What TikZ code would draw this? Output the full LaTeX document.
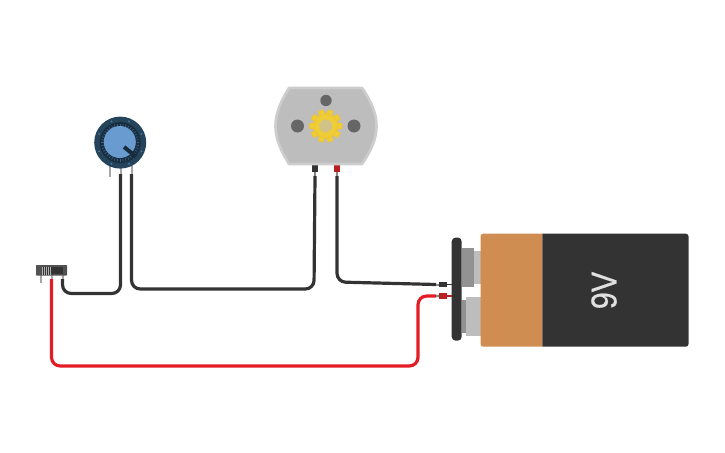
\documentclass[tikz,border=0pt]{standalone}
\usepackage{fontspec}
\newfontfamily\labelfont[FakeBold=0.6]{Liberation Sans}
\definecolor{wireblack}{RGB}{51,51,51}
\definecolor{wirered}{RGB}{227,29,36}
\definecolor{tipred}{RGB}{185,32,32}
\definecolor{copper}{RGB}{208,141,82}
\definecolor{casegray}{RGB}{189,189,189}
\definecolor{caseedge}{RGB}{205,205,205}
\definecolor{holegray}{RGB}{102,102,102}
\definecolor{gearyellow}{RGB}{238,205,55}
\definecolor{potnavy}{RGB}{36,68,92}
\definecolor{potring}{RGB}{24,44,62}
\definecolor{potblue}{RGB}{106,155,208}
\tikzset{every picture/.style={line width=0.75pt}}
\tikzset{
  wire/.style={line width=2.4pt,rounded corners=6.5pt},
  pin/.style={line width=1.5pt,color=gray!70},
  tip/.style={line width=4.6pt,line join=round},
  gearedge/.style={fill=gearyellow,draw=gearyellow!85!orange,line width=0.4pt,line join=round},
}

\begin{document}
\begin{tikzpicture}[x=0.75pt,y=0.75pt,yscale=-1,xscale=1]
        \useasboundingbox (0,0) rectangle (725,453);

        %Terminals
        \coordinate (swA) at (51.5,279);
        \coordinate (swB) at (62.5,279);
        \coordinate (potA) at (120.5,174);
        \coordinate (potB) at (131.5,174);
        \coordinate (motA) at (315,176);
        \coordinate (motB) at (337,176);
        \coordinate (batA) at (436,284.5);
        \coordinate (batB) at (436,296);

        %Potentiometer pins
        \draw [pin] (109.5,165) -- (109.5,177);
        \draw [pin] (120.5,165) -- (potA);
        \draw [pin] (131.5,165) -- (potB);
        %Potentiometer
        \fill [potnavy] (120.2,142.6) circle (26);
        \foreach \a in {0,45,...,315} {
          \fill [potblue!60!potnavy] (120.2,142.6) ++(\a+22.5:23) circle (1);
        }
        \fill [potring] (120.2,142.6) circle (20.5);
        \foreach \a in {0,9,...,351} {
          \draw [potblue!35!potnavy,line width=0.5pt] (120.2,142.6) ++(\a:16.5) -- ++(\a:2.5);
        }
        \fill [potblue] (119.8,142) circle (16);
        \draw [potring,line width=3pt] (124,147) -- (136,156.5);

        %Motor terminals
        \draw [pin,wireblack!60] (motA) -- ++(0,-6);
        \draw [pin,wireblack!60] (motB) -- ++(0,-6);
        \draw [tip,wireblack] (315,165) -- (315,172);
        \draw [tip,tipred] (337,165) -- (337,172);
        %Motor
        \draw [caseedge,fill=casegray,line width=2pt,line join=round]
          (289,88) -- (362,88) .. controls (371,101) and (376.5,113) .. (376.5,126)
          .. controls (376.5,139) and (371,151) .. (362,164) -- (289,164)
          .. controls (281,151) and (275.5,139) .. (275.5,126)
          .. controls (275.5,113) and (281,101) .. cycle;
        \fill [holegray] (326,100.5) circle (5.7);
        \fill [holegray] (297.5,126) circle (6.5);
        \fill [holegray] (354,126) circle (6.5);
        %Gear
        \foreach \a in {18,54,...,342} {
          \path [gearedge,rotate around={\a:(325.7,126)}] (322.4,115) -- (323.2,109.7) -- (328.2,109.7) -- (329,115) -- cycle;
        }
        \path [gearedge] (325.7,126) circle (12);
        \fill [casegray!60!gearyellow] (325.7,126) circle (6.5);

        %Slide switch
        \draw [pin] (40.5,275) -- (40.5,282.5);
        \draw [pin] (swA) -- ++(0,-4);
        \draw [pin] (swB) -- ++(0,-4);
        \fill [wireblack!85,rounded corners=0.5pt] (36,265) rectangle (67,275.5);
        \fill [black!80] (50.5,266.5) rectangle (63,274);
        \fill [gray!60] (41.5,266.5) rectangle (50.5,274.5);
        \foreach \x in {43,45,47,49} {
          \draw [wireblack,line width=0.6pt] (\x,266.5) -- (\x,274.5);
        }

        %Wires
        \draw [wire,wireblack] (swB) -- (62.5,293.5) -- (120.5,293.5) -- (potA);
        \draw [wire,wireblack] (potB) -- (131.5,289) -- (314,289) -- (motA);
        \draw [wire,wireblack] (motB) -- (337,282) -- (batA);
        \draw [wire,wirered] (swA) -- (51.5,366) -- (418,366) -- (418,296) -- (batB);

        %Battery
        \fill [holegray!50!casegray] (462,248.3) rectangle (474,286.5);
        \fill [casegray] (474,251) rectangle (481,284);
        \fill [holegray!50!casegray] (462,300.3) rectangle (467,332.7);
        \fill [casegray] (466.3,297.3) rectangle (481,335.7);
        \fill [wireblack,rounded corners=3pt] (451.7,237.5) rectangle (461.7,340.7);
        \fill [copper] (542.3,233.7) [rounded corners=2pt] -- (480.5,233.7) -- (480.5,346.7) [sharp corners] -- (542.3,346.7) -- cycle;
        \fill [wireblack] (542.3,233.7) [rounded corners=2pt] -- (688.5,233.7) -- (688.5,346.7) [sharp corners] -- (542.3,346.7) -- cycle;
        %Battery clips
        \draw [pin,wireblack!60] (batA) -- (439,284.5);
        \draw [tip,wireblack,line width=4pt] (439,284.7) -- (447,284.7);
        \draw [wireblack,line width=1pt] (447,284.7) -- (452,284.7);
        \draw [pin,wireblack!60] (batB) -- (439,296);
        \draw [tip,tipred,line width=4pt] (439,296) -- (447,296);
        \draw [tipred,line width=1pt] (447,296) -- (452,296);

        % Text Node
        \node (label) [rotate=90,xscale=0.85,text=black!12,font=\labelfont\fontsize{27}{27}\selectfont,inner sep=0pt] at (604,290.5) {9V};

\end{tikzpicture}
\end{document}
